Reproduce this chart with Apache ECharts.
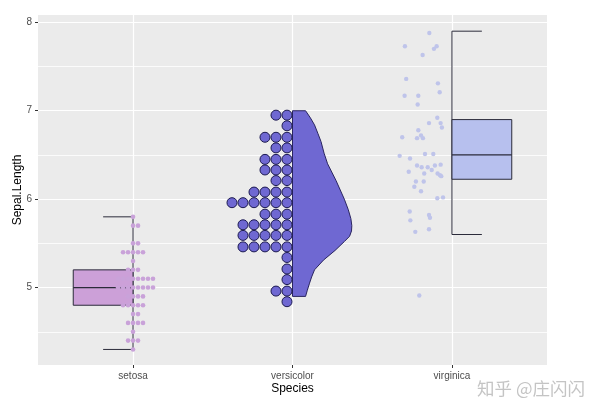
<!DOCTYPE html>
<html>
<head>
<meta charset="utf-8">
<style>html,body{margin:0;padding:0;background:#fff}#chart{width:600px;height:413px}</style>
<script src="https://cdn.jsdelivr.net/npm/echarts@6/dist/echarts.min.js"></script>
</head>
<body>
<div id="chart"></div>
<script>
// Data
const species = ['setosa', 'versicolor', 'virginica'];
const yTicks = [5, 6, 7, 8];
const yMinorTicks = [4.5, 5.5, 6.5, 7.5];

// setosa dotplot: value of each row and number of dots in it
const setosaRows = [5.8, 5.7, 5.5, 5.4, 5.3, 5.2, 5.1, 5.0, 4.9, 4.8, 4.7, 4.6, 4.5, 4.4, 4.3];
const setosaCounts = [1, 2, 2, 5, 1, 3, 8, 8, 4, 5, 2, 4, 1, 3, 1];

// versicolor dotplot
const versicolorRows = [6.95, 6.83, 6.70, 6.58, 6.45, 6.33, 6.21, 6.08, 5.96, 5.83, 5.71, 5.59, 5.46, 5.34, 5.21, 5.09, 4.96, 4.84];
const versicolorCounts = [2, 1, 3, 2, 3, 3, 2, 4, 6, 3, 5, 5, 5, 1, 1, 1, 2, 1];

// versicolor half violin
const violinValues = [7.0, 7.0, 6.92, 6.84, 6.74, 6.65, 6.52, 6.40, 6.21, 6.0, 5.88, 5.78, 5.70, 5.64, 5.58, 5.52, 5.42, 5.31, 5.2, 5.12, 5.05, 4.97, 4.9, 4.9];
const violinWidths = [0, 0.082, 0.112, 0.138, 0.160, 0.179, 0.198, 0.22, 0.273, 0.325, 0.350, 0.366, 0.372, 0.370, 0.358, 0.325, 0.267, 0.194, 0.138, 0.120, 0.107, 0.093, 0.082, 0];

// virginica jittered points
const virginicaX = [2.858, 2.705, 2.904, 2.887, 2.816, 2.713, 2.912, 2.923, 2.703, 2.789, 2.785, 2.908, 2.856, 2.929, 2.937, 2.789, 2.688, 2.806, 2.781, 2.818, 2.831, 2.883, 2.672, 2.737, 2.781, 2.810, 2.848, 2.893, 2.929, 2.873, 2.729, 2.826, 2.910, 2.925, 2.933, 2.774, 2.823, 2.764, 2.806, 2.908, 2.944, 2.735, 2.856, 2.862, 2.739, 2.856, 2.770, 2.795];
const virginicaY = [7.88, 7.73, 7.73, 7.70, 7.63, 7.36, 7.31, 7.21, 7.17, 7.17, 7.07, 6.92, 6.86, 6.86, 6.81, 6.78, 6.70, 6.72, 6.69, 6.69, 6.51, 6.51, 6.49, 6.46, 6.38, 6.36, 6.36, 6.38, 6.39, 6.33, 6.31, 6.29, 6.29, 6.27, 6.26, 6.20, 6.20, 6.14, 6.09, 6.01, 6.02, 5.86, 5.82, 5.79, 5.76, 5.66, 5.63, 4.91];

// half boxplots: setosa opens to the left, virginica to the right
const boxX = [1, 3];
const boxSide = [-1, 1];
const boxLow = [4.3, 5.6];
const boxQ1 = [4.8, 6.225];
const boxMedian = [5.0, 6.5];
const boxQ3 = [5.2, 6.9];
const boxHigh = [5.8, 7.9];
const boxColors = ['#cca0d8', '#b7c0ee'];

const BOX_WIDTH = 0.375;
const DOT_STEP_SETOSA = 0.0313;
const DOT_STEP_VERSICOLOR = 0.069;
const LINE_COLOR = '#2b2b3a';
const FONT = '"Liberation Sans", Arial, sans-serif';

// setosa rows grow both ways, the extra dot of an even row goes right
const setosaDots = [];
setosaRows.forEach((v, i) => {
    const n = setosaCounts[i];
    for (let k = -Math.floor((n - 1) / 2); k <= Math.ceil((n - 1) / 2); k++) {
        setosaDots.push([1 + k * DOT_STEP_SETOSA, v]);
    }
});

// versicolor rows stack leftwards from the centre line
const versicolorDots = [];
versicolorRows.forEach((v, i) => {
    for (let k = 0; k < versicolorCounts[i]; k++) {
        versicolorDots.push([2 - (k + 0.5) * DOT_STEP_VERSICOLOR, v]);
    }
});

const violinPoints = violinValues.map((v, i) => [2 + violinWidths[i], v]);
const virginicaDots = virginicaX.map((x, i) => [x, virginicaY[i]]);

var chart = echarts.init(document.getElementById('chart'));

var option = {
    animation: false,
    backgroundColor: '#ffffff',
    textStyle: { fontFamily: FONT },
    graphic: [{
        type: 'text',
        right: 15,
        top: 380,
        silent: true,
        style: {
            text: '知乎 @庄闪闪',
            fill: '#c4c4c4',
            font: '17.5px "Noto Sans CJK SC", sans-serif'
        }
    }],
    grid: {
        left: 38, right: 53, top: 15, bottom: 48,
        outerBoundsMode: 'none',
        backgroundColor: '#ebebeb', show: true, borderWidth: 0
    },
    xAxis: {
        type: 'value',
        min: 0.404,
        max: 3.596,
        name: 'Species',
        nameLocation: 'middle',
        nameMoveOverlap: false,
        nameGap: 18,
        nameTextStyle: { color: '#000', fontSize: 12, fontFamily: FONT },
        axisLine: { show: false },
        axisTick: { length: 3, lineStyle: { color: '#333' }, customValues: [1, 2, 3] },
        axisLabel: {
            color: '#4d4d4d',
            fontSize: 10,
            margin: 6,
            customValues: [1, 2, 3],
            formatter: value => species[Math.round(value) - 1]
        },
        splitLine: { show: true, lineStyle: { color: '#fff', width: 1.2 } }
    },
    yAxis: [
        {
            type: 'value',
            min: 4.124,
            max: 8.083,
            name: 'Sepal.Length',
            nameLocation: 'middle',
            nameMoveOverlap: false,
            nameGap: 14,
            nameTextStyle: { color: '#000', fontSize: 12, fontFamily: FONT },
            axisLine: { show: false },
            axisTick: { length: 3, lineStyle: { color: '#333' }, customValues: yTicks },
            axisLabel: { color: '#4d4d4d', fontSize: 10, margin: 6, customValues: yTicks },
            splitLine: { show: true, lineStyle: { color: '#fff', width: 1.2 } }
        },
        {
            type: 'value',
            position: 'left',
            min: 4.124,
            max: 8.083,
            axisLine: { show: false },
            axisTick: { show: false, customValues: yMinorTicks },
            axisLabel: { show: false, customValues: yMinorTicks },
            splitLine: { show: true, lineStyle: { color: '#fff', width: 0.8 } }
        }
    ],
    series: [
        {
            // half boxplots with whiskers
            type: 'custom',
            silent: true,
            z: 3,
            data: boxX.map((x, i) => [x, boxSide[i], boxLow[i], boxQ1[i], boxMedian[i], boxQ3[i], boxHigh[i], i]),
            encode: { x: 0, y: [2, 3, 4, 5, 6] },
            renderItem: function (params, api) {
                const x = api.value(0);
                const side = api.value(1);
                const i = api.value(7);
                const seg = (x1, y1, x2, y2, width) => {
                    const a = api.coord([x1, y1]);
                    const b = api.coord([x2, y2]);
                    return {
                        type: 'line',
                        shape: { x1: a[0], y1: a[1], x2: b[0], y2: b[1] },
                        style: { stroke: LINE_COLOR, lineWidth: width || 1 }
                    };
                };
                const q3 = api.coord([x, api.value(5)]);
                const q1 = api.coord([x + side * BOX_WIDTH, api.value(3)]);
                const edge = x + side * BOX_WIDTH;
                const cap = x + side * BOX_WIDTH / 2;
                return {
                    type: 'group',
                    children: [
                        seg(x, api.value(2), x, api.value(6)),
                        seg(x, api.value(2), cap, api.value(2)),
                        seg(x, api.value(6), cap, api.value(6)),
                        {
                            type: 'rect',
                            shape: {
                                x: Math.min(q3[0], q1[0]),
                                y: q3[1],
                                width: Math.abs(q1[0] - q3[0]),
                                height: q1[1] - q3[1]
                            },
                            style: { fill: boxColors[i], stroke: LINE_COLOR, lineWidth: 1 }
                        },
                        seg(x, api.value(4), edge, api.value(4), 1.2)
                    ]
                };
            }
        },
        {
            // versicolor half violin
            type: 'custom',
            silent: true,
            z: 3,
            data: violinPoints,
            encode: { x: 0, y: 1 },
            renderItem: function (params, api) {
                if (params.dataIndex !== 0) return null;
                return {
                    type: 'polygon',
                    shape: { points: violinPoints.map(p => api.coord(p)) },
                    style: { fill: '#6f68d2', stroke: '#2a2560', lineWidth: 1 }
                };
            }
        },
        {
            type: 'scatter',
            silent: true,
            z: 4,
            data: setosaDots,
            symbolSize: 4.6,
            itemStyle: { color: '#c9a2d9', opacity: 1 }
        },
        {
            type: 'scatter',
            silent: true,
            z: 4,
            data: versicolorDots,
            symbolSize: 10,
            itemStyle: { color: '#6f68d2', borderColor: '#1c1a50', borderWidth: 1, opacity: 1 }
        },
        {
            type: 'scatter',
            silent: true,
            z: 4,
            data: virginicaDots,
            symbolSize: 4.4,
            itemStyle: { color: '#bfc4ea', opacity: 1 }
        }
    ]
};

option && chart.setOption(option);
</script>
</body>
</html>
